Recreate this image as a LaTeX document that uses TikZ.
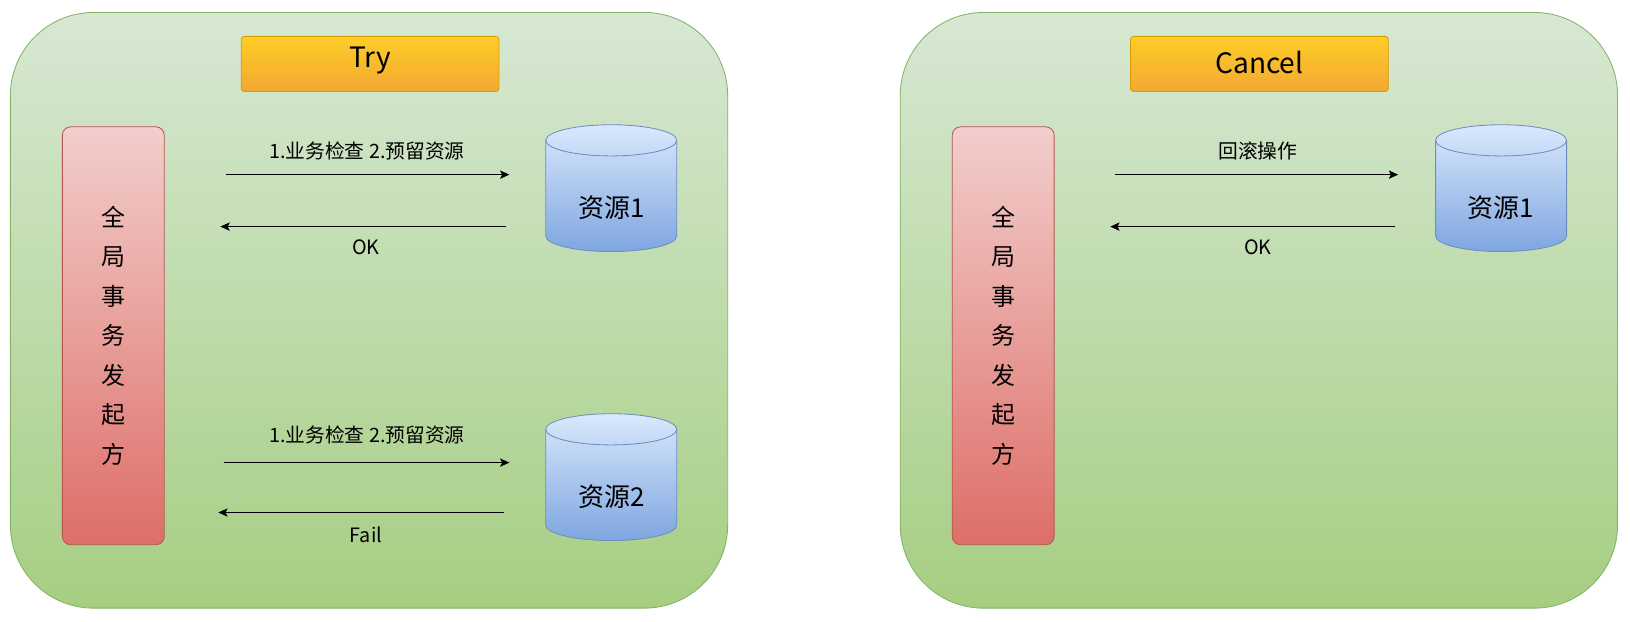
\documentclass[tikz,border=0pt]{standalone}
\usepackage{fontspec}
\setmainfont{Noto Sans CJK SC}
\usetikzlibrary{arrows.meta}
\tikzset{
 panel/.style={draw={rgb,255:red,130;green,179;blue,102}, line width=0.8, rounded corners=80, top color={rgb,255:red,215;green,232;blue,212}, bottom color={rgb,255:red,166;green,206;blue,130}},
 hdr/.style={draw={rgb,255:red,215;green,155;blue,0}, line width=0.8, rounded corners=3, top color={rgb,255:red,255;green,205;blue,40}, bottom color={rgb,255:red,242;green,168;blue,50}, minimum width=248, minimum height=53},
 hdrtext/.style={font=\fontsize{27}{30}\selectfont, inner sep=0pt},
 bar/.style={draw={rgb,255:red,184;green,84;blue,80}, line width=0.8, rounded corners=8, top color={rgb,255:red,242;green,206;blue,204}, bottom color={rgb,255:red,222;green,110;blue,104}, minimum width=98, minimum height=402, font=\fontsize{23}{38}\selectfont, align=center},
 cyl/.style={draw={rgb,255:red,108;green,142;blue,191}, line width=0.8, top color={rgb,255:red,218;green,232;blue,252}, bottom color={rgb,255:red,126;green,166;blue,224}},
 lbl/.style={font=\fontsize{19}{22}\selectfont},
 arr/.style={line width=0.9, -{Stealth[length=9,width=8,inset=2]}},
}
\newcommand{\mycyl}[4]{% name, cx, top, label
 \path[cyl] (#2-63,#3+15) -- (#2-63,#3+107) arc[start angle=180,end angle=0,x radius=63,y radius=15] -- (#2+63,#3+15) arc[start angle=0,end angle=-180,x radius=63,y radius=15] -- cycle;
 \draw[draw={rgb,255:red,108;green,142;blue,191}, line width=0.8] (#2-63,#3+15) arc[start angle=180,end angle=0,x radius=63,y radius=15];
 \node[font=\fontsize{25}{28}\selectfont] (#1) at (#2,#3+80) {#4};
}
\begin{document}
\begin{tikzpicture}[x=1pt,y=-1pt]
\useasboundingbox (0,0) rectangle (1568,598);
\path[panel] (10,12) rectangle (700,585);
\path[panel] (866,12) rectangle (1556,585);
\node[hdr] (try) at (356,61.5) {};
\node[hdr] (cancel) at (1211.5,61.5) {};
\node[hdrtext] (trytext) at ([yshift=3pt]try.center) {Try};
\node[hdrtext] (canceltext) at ([yshift=1pt]cancel.center) {Cancel};
\node[bar] (g1) at (109,323) {全\\局\\事\\务\\发\\起\\方};
\node[bar] (g2) at (965,323) {全\\局\\事\\务\\发\\起\\方};
\mycyl{r1}{588}{120}{资源1}
\mycyl{r2}{588}{398}{资源2}
\mycyl{r3}{1444}{120}{资源1}
\coordinate (a1s) at (217,168); \coordinate (a1e) at (490,168);
\coordinate (b1s) at (487,218); \coordinate (b1e) at (212,218);
\coordinate (a2s) at (215,445); \coordinate (a2e) at (490,445);
\coordinate (b2s) at (485,493); \coordinate (b2e) at (210,493);
\coordinate (a3s) at (1073,168); \coordinate (a3e) at (1345,168);
\coordinate (b3s) at (1342,218); \coordinate (b3e) at (1068,218);
\draw[arr] (a1s) -- (a1e); \draw[arr] (b1s) -- (b1e);
\draw[arr] (a2s) -- (a2e); \draw[arr] (b2s) -- (b2e);
\draw[arr] (a3s) -- (a3e); \draw[arr] (b3s) -- (b3e);
\node[lbl] (t1) at (353,145) {1.业务检查 2.预留资源};
\node[lbl] (t2) at (352,238) {OK};
\node[lbl] (t3) at (353,418) {1.业务检查 2.预留资源};
\node[lbl] (t4) at (352,514) {Fail};
\node[lbl] (t5) at (1210,145) {回滚操作};
\node[lbl] (t6) at (1210,238) {OK};
\end{tikzpicture}
\end{document}
